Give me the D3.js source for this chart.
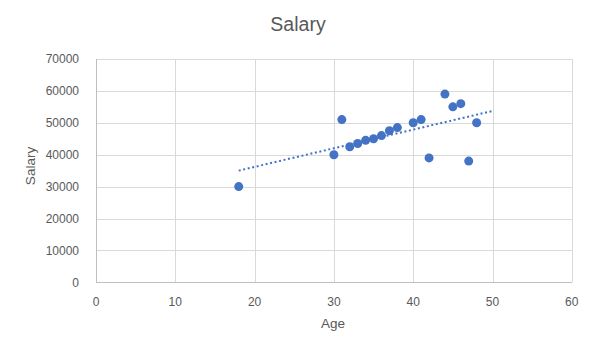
<!DOCTYPE html>
<html>
<head>
<meta charset="utf-8">
<script src="https://cdn.jsdelivr.net/npm/d3@7"></script>
<style>
  html, body { margin: 0; padding: 0; background: #fff; }
  svg { display: block; font-family: "Liberation Sans", Arial, sans-serif; }
</style>
</head>
<body>
<svg id="chart" width="597" height="357"></svg>
<script>
const title = "Salary";
const xTitle = "Age";
const yTitle = "Salary";
const ages = [18, 30, 31, 32, 33, 34, 35, 36, 37, 38, 40, 41, 42, 44, 45, 46, 47, 48];
const salaries = [30000, 40000, 51000, 42500, 43500, 44500, 45000, 46000, 47500, 48500, 50000, 51000, 39000, 59000, 55000, 56000, 38000, 50000];
const xTicks = [0, 10, 20, 30, 40, 50, 60];
const yTicks = [0, 10000, 20000, 30000, 40000, 50000, 60000, 70000];
const trendEnd = 50;

const svg = d3.select("#chart");
const W = 597, H = 357;
svg.append("rect").attr("width", W).attr("height", H).attr("fill", "#fff");

const x = d3.scaleLinear().domain([0, 60]).range([96, 571.8]);
const y = d3.scaleLinear().domain([0, 70000]).range([282.3, 59]);
const textColor = "#595959";
const gridColor = "#d9d9d9";

// gridlines
svg.append("g").selectAll("line").data(yTicks).join("line")
  .attr("x1", x(0)).attr("x2", x(60))
  .attr("y1", d => Math.round(y(d)) + 0.5).attr("y2", d => Math.round(y(d)) + 0.5)
  .attr("stroke", gridColor).attr("stroke-width", 1);
svg.append("g").selectAll("line").data(xTicks).join("line")
  .attr("y1", y(0)).attr("y2", y(70000))
  .attr("x1", d => Math.round(x(d)) + 0.5).attr("x2", d => Math.round(x(d)) + 0.5)
  .attr("stroke", gridColor).attr("stroke-width", 1);

// axis lines
svg.append("line").attr("x1", Math.round(x(0)) + 0.5).attr("x2", Math.round(x(0)) + 0.5)
  .attr("y1", y(0)).attr("y2", y(70000)).attr("stroke", "#bfbfbf");
svg.append("line").attr("x1", x(0)).attr("x2", x(60))
  .attr("y1", Math.round(y(0)) + 0.5).attr("y2", Math.round(y(0)) + 0.5).attr("stroke", "#bfbfbf");

// tick labels
svg.append("g").selectAll("text").data(yTicks).join("text")
  .attr("x", 79).attr("y", d => y(d)).attr("dy", "0.35em")
  .attr("text-anchor", "end").attr("font-size", 12).attr("fill", textColor)
  .text(d => d);
svg.append("g").selectAll("text").data(xTicks).join("text")
  .attr("x", d => x(d)).attr("y", 302).attr("dy", "0.35em")
  .attr("text-anchor", "middle").attr("font-size", 12).attr("fill", textColor)
  .text(d => d);

// titles
svg.append("text").attr("x", 298).attr("y", 24).attr("dy", "0.35em")
  .attr("text-anchor", "middle").attr("font-size", 19.5).attr("fill", textColor).text(title);
svg.append("text").attr("x", 333).attr("y", 323).attr("dy", "0.35em")
  .attr("text-anchor", "middle").attr("font-size", 13.5).attr("fill", textColor).text(xTitle);
svg.append("text").attr("transform", "translate(30,166) rotate(-90)").attr("dy", "0.35em")
  .attr("text-anchor", "middle").attr("font-size", 13.5).attr("fill", textColor).text(yTitle);

// linear trendline (least squares) computed from data
const n = ages.length;
const mx = d3.mean(ages), my = d3.mean(salaries);
let sxy = 0, sxx = 0;
for (let i = 0; i < n; i++) { sxy += (ages[i] - mx) * (salaries[i] - my); sxx += (ages[i] - mx) ** 2; }
const slope = sxy / sxx, intercept = my - slope * mx;
const x0 = d3.min(ages);
svg.append("line")
  .attr("x1", x(x0)).attr("y1", y(intercept + slope * x0))
  .attr("x2", x(trendEnd)).attr("y2", y(intercept + slope * trendEnd))
  .attr("stroke", "#4472c4").attr("stroke-width", 2).attr("stroke-dasharray", "2,2.6");

// points
svg.append("g").selectAll("circle").data(ages.map((a, i) => [a, salaries[i]])).join("circle")
  .attr("cx", d => x(d[0])).attr("cy", d => y(d[1])).attr("r", 4.5)
  .attr("fill", "#4472c4");
</script>
</body>
</html>
